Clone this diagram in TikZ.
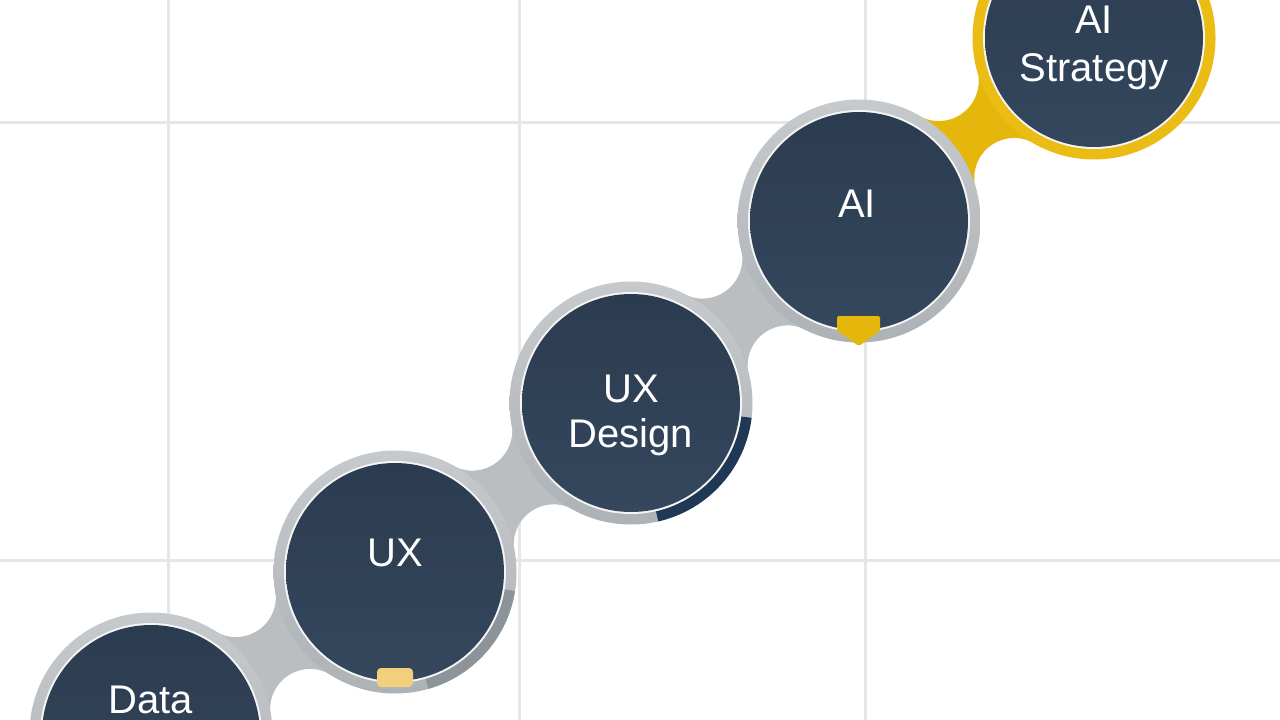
\documentclass[tikz,border=0pt]{standalone}
\usepackage{fontspec}
\setmainfont{Liberation Sans}
\usetikzlibrary{calc}
\definecolor{gridc}{HTML}{E6E6E6}
\definecolor{ringA}{HTML}{C7CACD}
\definecolor{ringB}{HTML}{ADB2B6}
\definecolor{ringc}{HTML}{BABEC1}
\definecolor{darkA}{HTML}{2C3C50}
\definecolor{darkB}{HTML}{34475D}
\definecolor{goldc}{HTML}{E5B60C}
\definecolor{goldA}{HTML}{EBBD14}
\definecolor{tabc}{HTML}{F1CF7C}
\definecolor{navyc}{HTML}{1E3856}
\definecolor{greyarc}{HTML}{8C949A}
% bridge (metaball neck) between two circle centres, built from two concave fillet arcs
\newcommand\mkbridge[3]{%
  \path (#1); \pgfgetlastxy\brgxa\brgya
  \path (#2); \pgfgetlastxy\brgxb\brgyb
  \pgfmathsetmacro\brgdx{(\brgxb-\brgxa)/10}%
  \pgfmathsetmacro\brgdy{(\brgyb-\brgya)/10}%
  \pgfmathsetmacro\brghd{veclen(\brgdx,\brgdy)*5}%
  \pgfmathsetmacro\brghh{sqrt((161-\brghd)*(161+\brghd))}%
  \pgfmathsetmacro\brgux{-\brgdy*5/\brghd}%
  \pgfmathsetmacro\brguy{\brgdx*5/\brghd}%
  \pgfmathsetmacro\brgmx{(\brgxa+\brgxb)/2}%
  \pgfmathsetmacro\brgmy{(\brgya+\brgyb)/2}%
  \pgfmathsetmacro\brgfx{\brgmx+\brghh*\brgux}%
  \pgfmathsetmacro\brgfy{\brgmy+\brghh*\brguy}%
  \pgfmathsetmacro\brggx{\brgmx-\brghh*\brgux}%
  \pgfmathsetmacro\brggy{\brgmy-\brghh*\brguy}%
  \pgfmathsetmacro\brgfa{atan2(\brgya-\brgfy,\brgxa-\brgfx)}%
  \pgfmathsetmacro\brgfb{atan2(\brgyb-\brgfy,\brgxb-\brgfx)}%
  \pgfmathsetmacro\brgga{atan2(\brgya-\brggy,\brgxa-\brggx)}%
  \pgfmathsetmacro\brggb{atan2(\brgyb-\brggy,\brgxb-\brggx)}%
  \pgfmathsetmacro\brgfd{mod(\brgfb-\brgfa+540,360)-180}%
  \pgfmathsetmacro\brggd{mod(\brgga-\brggb+540,360)-180}%
  \pgfmathsetmacro\brgpx{\brgfx+40*cos(\brgfa)}%
  \pgfmathsetmacro\brgpy{\brgfy+40*sin(\brgfa)}%
  \pgfmathsetmacro\brgqx{\brggx+40*cos(\brggb)}%
  \pgfmathsetmacro\brgqy{\brggy+40*sin(\brggb)}%
  \fill[#3] (#1.center) -- (\brgpx pt,\brgpy pt)
     arc[start angle=\brgfa, delta angle=\brgfd, radius=40pt]
     -- (#2.center) -- (\brgqx pt,\brgqy pt)
     arc[start angle=\brggb, delta angle=\brggd, radius=40pt] -- cycle;}
\begin{document}
\begin{tikzpicture}[x=1pt,y=-1pt,
  gridline/.style={draw=gridc, line width=3pt},
  ringnode/.style={circle, inner sep=0pt, minimum size=243pt, top color=ringA, bottom color=ringB, draw=none},
  goldring/.style={circle, inner sep=0pt, minimum size=243pt, fill=goldA, draw=none},
  sepline/.style={circle, inner sep=0pt, minimum size=222pt, fill=white!92!gray, draw=none},
  core/.style={circle, inner sep=0pt, minimum size=218pt, top color=darkA, bottom color=darkB, draw=none},
  lbl/.style={text=white, inner sep=0pt, anchor=base, font=\fontsize{40}{46}\selectfont}
]
\useasboundingbox (0,0) rectangle (1280,720);
\clip (0,0) rectangle (1280,720);
\fill[white] (0,0) rectangle (1280,720);
% grid
\draw[gridline] (168,0) -- (168,720);
\draw[gridline] (519,0) -- (519,720);
\draw[gridline] (865,0) -- (865,720);
\draw[gridline] (0,122) -- (1280,122);
\draw[gridline] (0,560) -- (1280,560);
% centre positions
\coordinate (cD) at (151,734);
\coordinate (cU) at (395,572);
\coordinate (cX) at (631,403);
\coordinate (cA) at (859,221);
\coordinate (cS) at (1094,38);
% bridges
\mkbridge{cD}{cU}{ringc}
\mkbridge{cU}{cX}{ringc}
\mkbridge{cX}{cA}{ringc}
\mkbridge{cA}{cS}{goldc}
% outer rings
\node[ringnode] (D) at (cD) {};
\node[ringnode] (U) at (cU) {};
\node[ringnode] (X) at (cX) {};
\node[ringnode] (A) at (cA) {};
\node[goldring] (S) at (cS) {};
% accent arcs
\fill[greyarc] ($(cU)+(9:111)$) arc[start angle=9, end angle=74, radius=111]
  -- ($(cU)+(74:121.5)$) arc[start angle=74, end angle=9, radius=121.5] -- cycle;
\fill[navyc] ($(cX)+(7:111)$) arc[start angle=7, end angle=77, radius=111]
  -- ($(cX)+(77:121.5)$) arc[start angle=77, end angle=7, radius=121.5] -- cycle;
% separators and cores
\foreach \c in {D,U,X,A,S}{
  \node[sepline] at (c\c) {};
  \node[core] (\c core) at (c\c) {};
}
% tabs
\node[rectangle, fill=tabc, rounded corners=4pt, minimum width=36pt, minimum height=19pt, inner sep=0pt] (Utab) at (395,677.5) {};
\fill[goldc, rounded corners=2pt] (837,316) -- (880,316) -- (880,331) -- (859,346) -- (837,331) -- cycle;
% labels
\node[lbl, text depth=0pt] (tD) at (151,713) {Data};
\node[lbl] (tU) at (395,566) {UX};
\node[lbl] (tX1) at (631,402) {UX};
\node[lbl] (tX2) at (631,447) {Design};
\node[lbl] (tA) at (857,217) {AI};
\node[lbl] (tS1) at (1094,34) {AI};
\node[lbl] (tS2) at (1094,81) {Strategy};
\end{tikzpicture}
\end{document}
